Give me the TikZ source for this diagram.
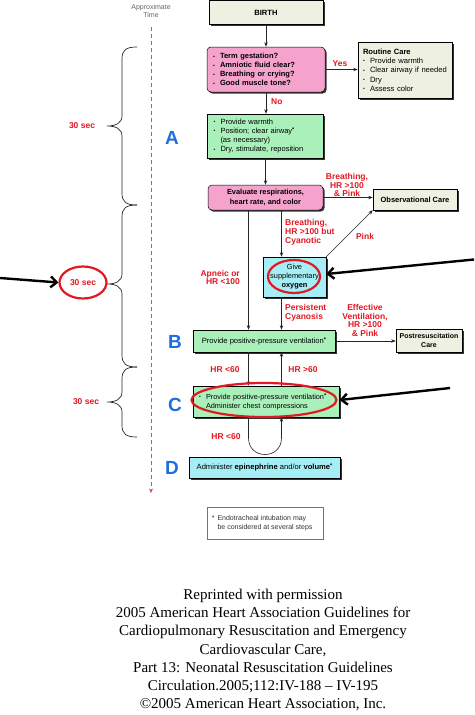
\documentclass[tikz,border=0pt]{standalone}
\usepackage{fontspec}
\setmainfont{Liberation Sans}
\newfontfamily\serifx{Liberation Serif}
\usetikzlibrary{arrows.meta,shadows,calc,shapes.geometric}

\definecolor{pinkc}{RGB}{245,163,204}
\definecolor{greenc}{RGB}{170,240,186}
\definecolor{cyanc}{RGB}{165,238,246}
\definecolor{lightc}{RGB}{238,241,226}
\definecolor{redc}{RGB}{225,25,35}
\definecolor{bluec}{RGB}{30,110,225}
\definecolor{dashc}{RGB}{225,70,100}

\newcommand\fsz[2]{\fontsize{#1}{#2}\selectfont}
\newcommand\bl{\makebox[7pt][l]{\raisebox{0.5pt}{\fsz{5}{5}\textbullet}}}
\newcommand\strm{\raisebox{2pt}{\fsz{5.5}{5}\bfseries *}}

\tikzset{
  bx/.style={draw=black, line width=0.5pt, inner sep=0pt,
    drop shadow={shadow xshift=1.6pt, shadow yshift=-1.6pt, fill=black!80, opacity=1}},
  lightbx/.style={bx, fill=lightc},
  pinkbx/.style={bx, fill=pinkc, rounded corners=4pt},
  greenbx/.style={bx, fill=greenc},
  cyanbx/.style={bx, fill=cyanc},
  boxtxt/.style={font=\fsz{7.6}{9}},
  lab/.style={text=redc, font=\bfseries\fsz{8.5}{8.9}, inner sep=0pt, align=center},
  letter/.style={text=bluec, font=\bfseries\fsz{19}{19}, inner sep=0pt},
  conn/.style={draw=black!85, line width=0.6pt},
  arr/.style={conn, -{Stealth[length=4.5pt,width=3.4pt]}},
  bigarr/.style={draw=black, line width=2.4pt, -{Straight Barb[length=6pt,width=11pt]}},
  redell/.style={draw=redc, line width=2.2pt, ellipse, inner sep=0pt},
  bracestyle/.style={draw=black!85, line width=0.7pt},
  dashline/.style={draw=dashc, line width=1pt, dash pattern=on 4pt off 3pt, -{Stealth[length=4.5pt,width=4pt]}}
}

\newcommand\curlybrace[3]{%
  \draw[bracestyle] (137,#1) .. controls (126,#1) and (122,#1+3) .. (122,#1+12)
    -- (122,#2-10) .. controls (122,#2-3) and (116,#2) .. (107,#2)
    .. controls (116,#2) and (122,#2+3) .. (122,#2+10)
    -- (122,#3-12) .. controls (122,#3-3) and (126,#3) .. (137,#3);}

\begin{document}
\begin{tikzpicture}[x=1pt,y=-1pt]
\useasboundingbox (0,0) rectangle (474,715);
\fill[white] (0,0) rectangle (474,715);

% time axis
\node[font=\fsz{7}{8}, text=black!60, align=center, inner sep=0pt] (apt) at (151,11) {Approximate\\Time};
\coordinate (t0) at (151,27);
\coordinate (t1) at (151,493);
\draw[dashline] (t0) -- (t1);

% braces
\curlybrace{47}{126}{205}
\curlybrace{205}{284}{367}
\curlybrace{367}{402}{437}
\node[lab] (ls1) at (82,126) {30 sec};
\node[lab, redell, minimum width=47, minimum height=32] (esec) at (83,282.5) {30 sec};
\node[lab] (ls3) at (86,402) {30 sec};

% boxes
\node[lightbx, minimum width=114, minimum height=24, font=\bfseries\fsz{7.6}{9}] (birth) at (266,12.5) {BIRTH};
\node[pinkbx, minimum height=45, text width=106, inner xsep=6pt, align=left, font=\bfseries\fsz{7.5}{9}] (q1) at (266,69.5)
  {\bl Term gestation?\\\bl Amniotic fluid clear?\\\bl Breathing or crying?\\\bl Good muscle tone?};
\node[lightbx, minimum height=56, text width=84, inner xsep=5pt, align=left, font=\fsz{7.6}{9.3}] (routine) at (405,70)
  {\textbf{Routine Care}\\\bl Provide warmth\\\bl Clear airway if needed\\\bl Dry\\\bl Assess color};
\node[greenbx, minimum height=44, text width=104, inner xsep=6pt, align=left, font=\fsz{7.5}{9.2}] (abox) at (265.5,136)
  {\bl Provide warmth\\\bl Position; clear airway\strm\\\hspace*{7pt}(as necessary)\\\bl Dry, stimulate, reposition};
\node[pinkbx, minimum width=115, minimum height=25, align=center, font=\bfseries\fsz{7.4}{9.3}] (eval) at (265.5,197.5)
  {Evaluate respirations,\\heart rate, and color};
\node[lightbx, minimum width=84, minimum height=21, font=\bfseries\fsz{7.5}{9}] (obs) at (415,199.5) {Observational Care};
\node[cyanbx, minimum width=63, minimum height=40, align=center, font=\fsz{7.4}{9}] (oxy) at (294.5,277)
  {Give\\supplementary\\\textbf{oxygen}};
\node[greenbx, minimum width=142, minimum height=22, boxtxt] (b) at (264,341) {Provide positive-pressure ventilation\strm};
\node[lightbx, minimum width=66, minimum height=23, align=center, font=\bfseries\fsz{7}{9.3}] (post) at (429,340.5)
  {Postresuscitation\\Care};
\node[greenbx, minimum height=31, text width=134, inner xsep=6pt, align=left, font=\fsz{7.3}{9}] (c) at (266,401.5)
  {\bl Provide positive-pressure ventilation\strm\\\hspace*{7pt}Administer chest compressions};
\node[cyanbx, minimum width=151, minimum height=21, boxtxt] (d) at (264.5,467.5)
  {Administer \textbf{epinephrine} and/or \textbf{volume}\strm};
\node[draw=black!55, line width=0.5pt, minimum width=116, minimum height=32, align=left, inner sep=0pt,
  text=black!80, font=\fsz{7}{8.6}] (foot) at (265,523)
  {\llap{*\hspace{3pt}}Endotracheal intubation may\\be considered at several steps};

% step letters
\node[letter] (la) at (172,138) {A};
\node[letter] (lbb) at (175,342) {B};
\node[letter] (lc) at (175,405) {C};
\node[letter] (ld) at (172,468) {D};

% connectors
\coordinate (xl) at (248.5,0);
\coordinate (xr) at (281.5,0);
\draw[arr] (birth.south) -- (q1.north);
\draw[arr] (q1.east) -- (q1.east -| routine.west);
\draw[arr] (q1.south) -- (q1.south |- abox.north);
\draw[arr] (abox.south) -- (abox.south |- eval.north);
\draw[arr] (eval.east) -- (eval.east -| obs.west);
\draw[arr] (eval.south -| xr) -- (oxy.north -| xr);
\draw[arr] (eval.south -| xl) -- (b.north -| xl);
\draw[arr] (oxy.north east) -- (obs.south west);
\draw[arr] (oxy.south -| xr) -- (b.north -| xr);
\draw[arr] (b.east) -- (b.east -| post.west);
\draw[arr] (b.south -| xl) -- (c.north -| xl);
\draw[arr] (c.north -| xr) -- (b.south -| xr);
\coordinate (lp1) at (248.5,438);
\coordinate (lp2) at (281.5,438);
\draw[arr] (c.south -| xl) -- (lp1) .. controls +(0,22) and +(0,22) .. (lp2) -- (c.south -| xr);

% labels
\node[lab] (lyes) at (340,64) {Yes};
\node[lab, anchor=west] (lno) at (271,102) {No};
\node[lab] (lb1) at (347,185) {Breathing,\\HR >100\\\& Pink};
\node[lab, anchor=west, align=left] (lb2) at (285,232) {Breathing,\\HR >100 but\\Cyanotic};
\node[lab] (lpink) at (365,236) {Pink};
\node[lab, anchor=east, align=right] (lap) at (240,277.5) {Apneic or\\HR <100};
\node[lab, anchor=west, align=left] (lpc) at (285,312.5) {Persistent\\Cyanosis};
\node[lab] (lev) at (365,320.5) {Effective\\Ventilation,\\HR >100\\\& Pink};
\node[lab] (lh1) at (225,370) {HR <60};
\node[lab] (lh2) at (303,370) {HR >60};
\node[lab] (lh3) at (226,437) {HR <60};

% highlight ellipses and arrows
\node[redell, minimum width=145, minimum height=34] (ec) at (264,400) {};
\node[redell, minimum width=52, minimum height=33] (eoxy) at (294,276.5) {};
\coordinate (ba1) at (474,259.5);
\coordinate (ba2) at (450,388);
\coordinate (ba3) at (0,278);
\draw[bigarr] (ba1) -- ([yshift=3pt]oxy.east);
\draw[bigarr] (ba2) -- ([xshift=2pt]ec.east);
\draw[bigarr] (ba3) -- (esec.west);

% credit
\node[font=\serifx\fsz{15}{18.3}, align=center, inner sep=0pt] (cred) at (263,650)
  {Reprinted with permission\\2005 American Heart Association Guidelines for\\Cardiopulmonary Resuscitation and Emergency\\Cardiovascular Care,\\Part 13: Neonatal Resuscitation Guidelines\\Circulation.2005;112:IV-188 – IV-195\\©2005 American Heart Association, Inc.};
\end{tikzpicture}
\end{document}
